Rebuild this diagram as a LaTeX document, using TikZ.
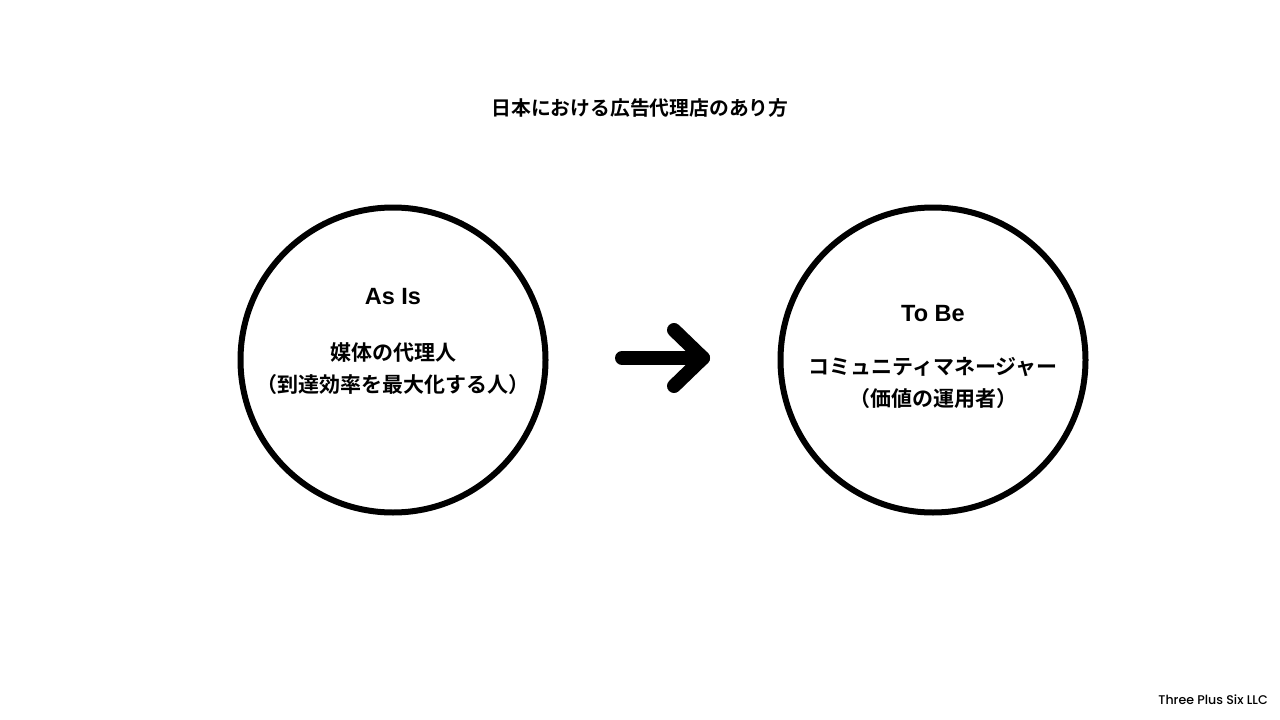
\documentclass[tikz,border=0pt]{standalone}
\usepackage{fontspec}
\setmainfont{Liberation Sans}
\newfontfamily\jpb{Noto Sans CJK JP Bold}
\newfontfamily\lbl{Liberation Sans}[BoldFont={Liberation Sans Bold}]
\newfontfamily\futur{Poppins Medium}
\begin{document}
\begin{tikzpicture}[x=1pt,y=-1pt,
  ring/.style={draw=black,line width=6pt,circle,minimum size=305pt,inner sep=0pt},
  heading/.style={font=\lbl\bfseries\fontsize{23.5}{26}\selectfont,inner sep=0pt},
  jtext/.style={font=\jpb\fontsize{21}{24}\selectfont,inner sep=0pt,align=center},
  bigarrow/.style={line width=14pt,line cap=round,line join=round}]
\useasboundingbox (0,0) rectangle (1280,720);
\fill[white] (0,0) rectangle (1280,720);
\node[font=\jpb\fontsize{19.8}{22}\selectfont,inner sep=0pt] (title) at (640,108) {日本における広告代理店のあり方};
\node[ring] (left) at (393,360) {};
\node[ring] (right) at (933,360) {};
\node[heading] (asis) at (393,297) {As Is};
\node[jtext] (l1) at (393,353) {媒体の代理人};
\node[jtext] (l2) at (393,385) {（到達効率を最大化する人）};
\node[heading] (tobe) at (933,314) {To Be};
\node[jtext] (r1) at (933,367) {コミュニティマネージャー};
\node[jtext] (r2) at (933,399) {（価値の運用者）};
\coordinate (a0) at (622,358);
\coordinate (a1) at (703,358);
\coordinate (h1) at (674,330);
\coordinate (h2) at (674,386);
\draw[bigarrow] (a0) -- (a1);
\draw[bigarrow] (h1) -- (a1) -- (h2);
\node[font=\futur\fontsize{12.6}{14}\selectfont,inner sep=0pt,anchor=east] (llc) at (1268,700) {Three Plus Six LLC};
\end{tikzpicture}
\end{document}
